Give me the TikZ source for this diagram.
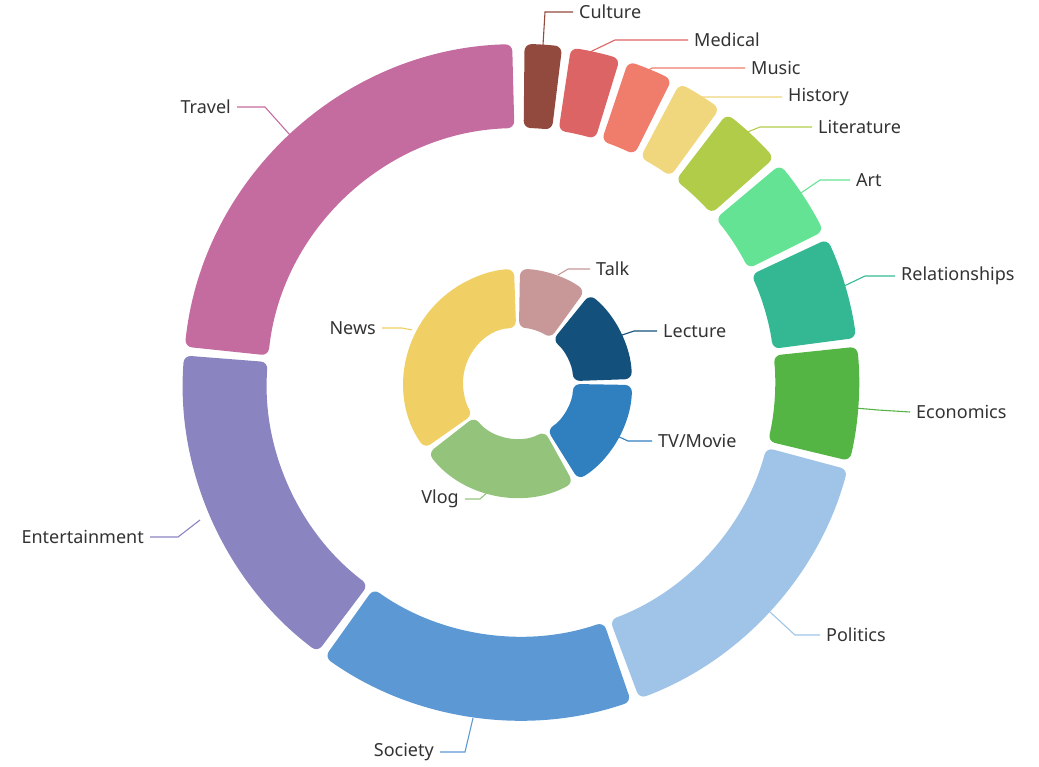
\documentclass[tikz,border=0pt]{standalone}
\usepackage{fontspec}
\setmainfont{Noto Sans}
\usetikzlibrary{calc}
\definecolor{cCul}{HTML}{924A3E}\definecolor{cMed}{HTML}{DC6464}\definecolor{cMus}{HTML}{F07C6C}
\definecolor{cHis}{HTML}{F0D67C}\definecolor{cLit}{HTML}{B0CC48}\definecolor{cArt}{HTML}{64E394}
\definecolor{cRel}{HTML}{34B894}\definecolor{cEco}{HTML}{54B444}\definecolor{cPol}{HTML}{A0C4E8}
\definecolor{cSoc}{HTML}{5C98D4}\definecolor{cEnt}{HTML}{8A84C0}\definecolor{cTra}{HTML}{C46CA0}
\definecolor{cTal}{HTML}{C89898}\definecolor{cLec}{HTML}{14507C}\definecolor{cTV}{HTML}{3080C0}
\definecolor{cVlo}{HTML}{94C47C}\definecolor{cNew}{HTML}{F0D064}\definecolor{txt}{HTML}{333333}
\newcommand\seg[6]{% center, r inner, r outer, a1, a2, color (a: clockwise from top)
 \fill[#6,rounded corners=7pt] ($(#1)+({90-(#4)}:#3pt)$) arc[start angle={90-(#4)},end angle={90-(#5)},radius=#3pt]
  -- ($(#1)+({90-(#5)}:#2pt)$) arc[start angle={90-(#5)},end angle={90-(#4)},radius=#2pt] -- cycle;}
\newcommand\lab[7]{% name, p1, p2, p3, color, anchor, text
 \coordinate (#1a) at #2; \coordinate (#1b) at #3; \coordinate (#1c) at #4;
 \draw[#5,line width=1.1pt] (#1a) -- (#1b) -- (#1c);
 \node[lbl,anchor=#6] (#1) at (#1c) {#7};}
\tikzset{lbl/.style={font=\fontsize{18}{20}\selectfont,text=txt,inner sep=6pt}}
\begin{document}
\begin{tikzpicture}[x=1pt,y=1pt]
\useasboundingbox (0,0) rectangle (1039,-766);
\coordinate (O) at (521,-382);
\coordinate (I) at (518,-383);
\seg{O}{254}{338}{0.6}{7}{cCul}
\seg{O}{254}{338}{8.5}{17}{cMed}
\seg{O}{254}{338}{18.5}{26.5}{cMus}
\seg{O}{254}{338}{28}{36}{cHis}
\seg{O}{254}{338}{37.5}{48.5}{cLit}
\seg{O}{254}{338}{50}{63.5}{cArt}
\seg{O}{254}{338}{65}{82.5}{cRel}
\seg{O}{254}{338}{84}{103.5}{cEco}
\seg{O}{254}{338}{105}{159.5}{cPol}
\seg{O}{254}{338}{161}{215.5}{cSoc}
\seg{O}{254}{338}{217}{274.5}{cEnt}
\seg{O}{254}{338}{276}{358.5}{cTra}
\seg{I}{55}{114}{1}{36}{cTal}
\seg{I}{55}{114}{39}{88}{cLec}
\seg{I}{55}{114}{91}{148}{cTV}
\seg{I}{55}{114}{151}{232}{cVlo}
\seg{I}{55}{114}{235}{358}{cNew}
\lab{cul}{(543,-45)}{(545,-12)}{(573,-12)}{cCul}{west}{Culture}
\lab{med}{(590,-52)}{(615,-40)}{(688,-40)}{cMed}{west}{Medical}
\lab{mus}{(640,-75)}{(652,-68)}{(745,-68)}{cMus}{west}{Music}
\lab{his}{(683,-100)}{(700,-97)}{(782,-97)}{cHis}{west}{History}
\lab{lit}{(740,-135)}{(760,-127)}{(812,-127)}{cLit}{west}{Literature}
\lab{art}{(795,-197)}{(820,-180)}{(850,-180)}{cArt}{west}{Art}
\lab{rel}{(840,-288)}{(865,-276)}{(895,-276)}{cRel}{west}{Relationships}
\lab{eco}{(855,-408)}{(878,-410)}{(910,-412)}{cEco}{west}{Economics}
\lab{pol}{(770,-612)}{(795,-635)}{(820,-635)}{cPol}{west}{Politics}
\lab{soc}{(473,-718)}{(465,-752)}{(440,-752)}{cSoc}{east}{Society}
\lab{ent}{(200,-520)}{(178,-537)}{(150,-537)}{cEnt}{east}{Entertainment}
\lab{tra}{(290,-135)}{(265,-107)}{(237,-107)}{cTra}{east}{Travel}
\lab{tal}{(558,-275)}{(568,-269)}{(590,-269)}{cTal}{west}{Talk}
\lab{lec}{(622,-335)}{(634,-331)}{(657,-331)}{cLec}{west}{Lecture}
\lab{tvm}{(615,-435)}{(628,-441)}{(652,-441)}{cTV}{west}{TV/Movie}
\lab{vlo}{(490,-490)}{(480,-499)}{(465,-499)}{cVlo}{east}{Vlog}
\lab{new}{(412,-330)}{(402,-328)}{(382,-328)}{cNew}{east}{News}
\end{tikzpicture}
\end{document}
